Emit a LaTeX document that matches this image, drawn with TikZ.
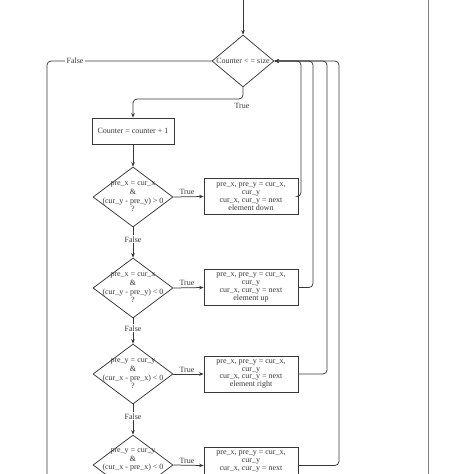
\documentclass[tikz,border=0pt]{standalone}
\usepackage{fontspec}
\setmainfont{Liberation Serif}
\usetikzlibrary{shapes.geometric,arrows.meta}
\definecolor{ln}{HTML}{383838}
\begin{document}
\begin{tikzpicture}[x=1pt,y=-1pt,
  every node/.style={font=\fontsize{8}{8.6}\selectfont, text=ln},
  line/.style={draw=ln, line width=0.75pt},
  arr/.style={line, -{Stealth[length=4.5pt,width=3.6pt]}},
  rnd/.style={rounded corners=4pt},
  dia/.style={draw=ln, line width=0.75pt, diamond, inner sep=0pt, minimum width=80pt, minimum height=60pt},
  cond/.style={draw=ln, line width=0.75pt, diamond, inner sep=0pt, minimum width=62pt, minimum height=52pt},
  proc/.style={draw=ln, line width=0.75pt, rectangle, inner sep=0pt, minimum width=94pt, minimum height=36pt, align=center, font=\fontsize{8}{7.9}\selectfont},
  lab/.style={fill=white, inner sep=1.2pt},
  dtext/.style={align=center, inner sep=0pt}
]
\useasboundingbox (0,0) rectangle (474,474);
\coordinate (top) at (243,0);
\node[cond] (c0) at (243,61) {};
\node[dtext] at (c0) {Counter < = size};
\node[proc, minimum width=82pt, minimum height=26pt] (inc) at (133,131) {Counter = counter + 1};

\node[dia] (d1) at (133,197) {};
\node[dtext] at (d1) {pre\_x = cur\_x\\\&\\(cur\_y - pre\_y) > 0\\?};
\node[proc] (b1) at (251,196.5) {pre\_x, pre\_y = cur\_x,\\cur\_y\\cur\_x, cur\_y = next\\element down};

\node[dia] (d2) at (133,288) {};
\node[dtext] at (d2) {pre\_x = cur\_x\\\&\\(cur\_y - pre\_y) < 0\\?};
\node[proc] (b2) at (251,287.5) {pre\_x, pre\_y = cur\_x,\\cur\_y\\cur\_x, cur\_y = next\\element up};

\node[dia] (d3) at (133,374) {};
\node[dtext] at (d3) {pre\_y = cur\_y\\\&\\(cur\_x - pre\_x) < 0\\?};
\node[proc] (b3) at (251,374) {pre\_x, pre\_y = cur\_x,\\cur\_y\\cur\_x, cur\_y = next\\element right};

\node[dia] (d4) at (133,465) {};
\node[dtext] at (d4) {pre\_y = cur\_y\\\&\\(cur\_x - pre\_x) < 0\\\strut};
\node[proc] (b4) at (251,465.5) {pre\_x, pre\_y = cur\_x,\\cur\_y\\cur\_x, cur\_y = next\\\strut};

% entry
\draw[arr] (top) -- (c0.north);
% False exit
\coordinate (fend) at (47,480);
\draw[line, rnd] (c0.west) -- (47,61) -- (fend);
\node[lab] at (75,61) {False};
% True
\draw[arr, rnd] (c0.south) -- (243,99) -- (133,99) -- (inc.north);
\node at (242,106) {True};
\draw[arr] (inc.south) -- (d1.north);

% chain
\draw[arr] (d1.south) -- node[lab, pos=0.4]{False} (d2.north);
\draw[arr] (d2.south) -- node[lab, pos=0.4]{False} (d3.north);
\draw[arr] (d3.south) -- node[lab, pos=0.4]{False} (d4.north);

\foreach \i in {1,2,3,4}{
  \draw[arr] (d\i.east) -- node[above, pos=0.45, inner sep=1.5pt]{True} (b\i.west);
}
% returns
\draw[arr, rnd] (b1.east) -- (301,196.5) -- (301,61) -- (c0.east);
\draw[arr, rnd] (b2.east) -- (313,287.5) -- (313,61) -- (c0.east);
\draw[arr, rnd] (b3.east) -- (327,374) -- (327,61) -- (c0.east);
\draw[arr, rnd] (b4.east) -- (339,465.5) -- (339,61) -- (c0.east);

% right border line
\coordinate (r1) at (428,0);
\coordinate (r2) at (428,474);
\draw[line, draw=gray] (r1) -- (r2);
\end{tikzpicture}
\end{document}
